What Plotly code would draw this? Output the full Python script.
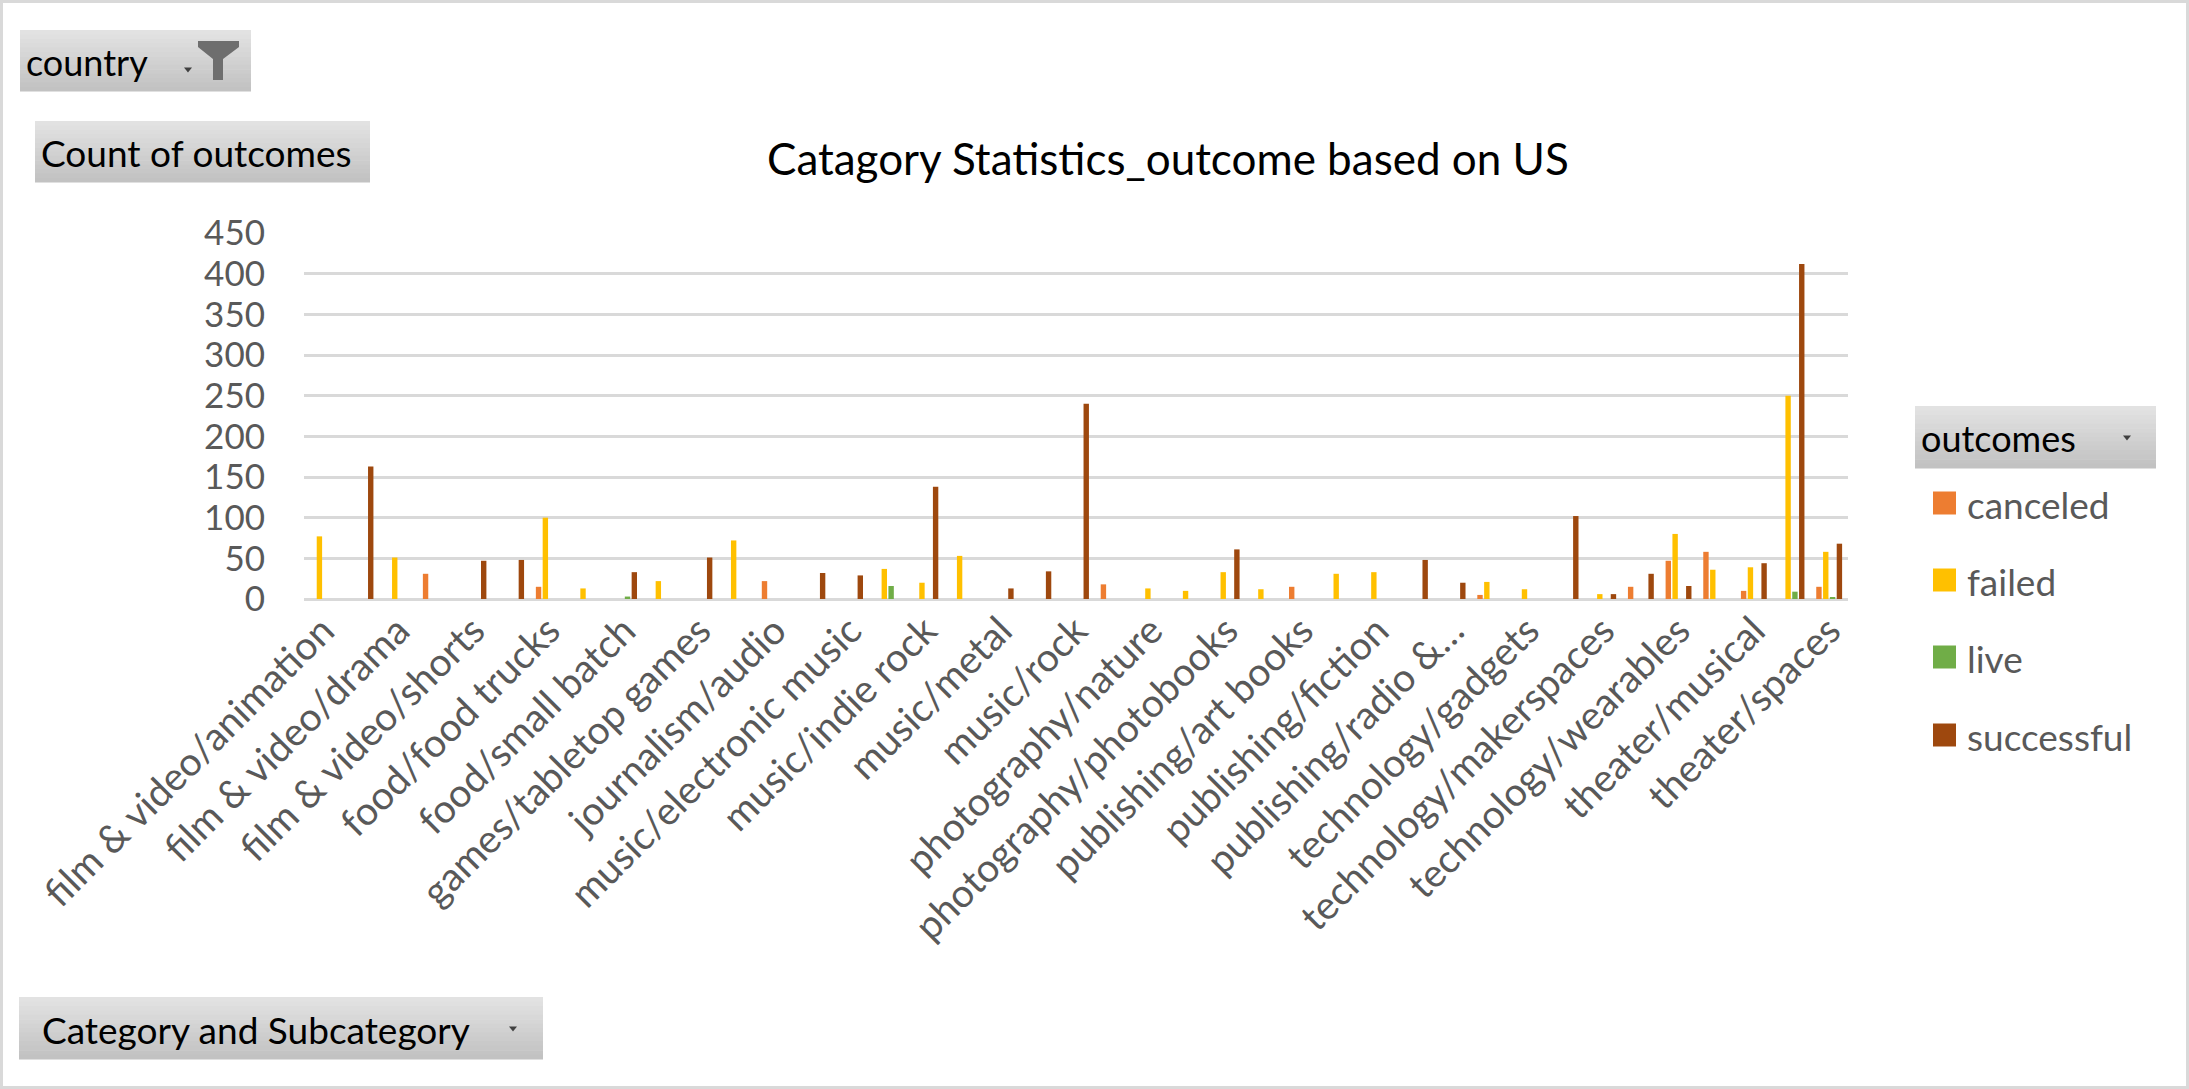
import plotly.graph_objects as go

# ---------------- data ----------------
categories = [
    "film & video/animation", "film & video/documentary", "film & video/drama",
    "film & video/science fiction", "film & video/shorts", "film & video/television",
    "food/food trucks", "food/restaurants", "food/small batch", "games/mobile games",
    "games/tabletop games", "games/video games", "journalism/audio",
    "music/classical music", "music/electronic music", "music/faith",
    "music/indie rock", "music/jazz", "music/metal", "music/pop", "music/rock",
    "music/world music", "photography/nature", "photography/people",
    "photography/photobooks", "photography/places", "publishing/art books",
    "publishing/children's books", "publishing/fiction", "publishing/nonfiction",
    "publishing/radio & podcasts", "publishing/translations", "technology/gadgets",
    "technology/hardware", "technology/makerspaces", "technology/space exploration",
    "technology/wearables", "technology/web", "theater/musical", "theater/plays",
    "theater/spaces",
]
N = None
canceled = [N, N, N, 31, N, N, 15, N, N, N, N, N, 22, N, N, N, N, N, N, N, N,
            18, N, N, N, N, 15, N, N, N, N, 5, N, N, N, 15, 47, 58, 10, N, 15]
failed = [77, N, 51, N, N, N, 100, 13, N, 22, N, 72, N, N, N, 37, 20, 53, N, N, N,
          N, 13, 10, 33, 12, N, 31, 33, N, N, 21, 12, N, 6, N, 80, 36, 39, 250, 58]
live = [N, N, N, N, N, N, N, N, 3, N, N, N, N, N, N, 16, N, N, N, N, N,
        N, N, N, N, N, N, N, N, N, N, N, N, N, N, N, N, N, N, 9, 2]
successful = [N, 163, N, N, 47, 48, N, N, 33, N, 51, N, N, 32, 29, N, 138, N, 13, 34, 240,
              N, N, N, 61, N, N, N, N, 48, 20, N, N, 102, 6, 31, 16, N, 44, 412, 68]

series_names = ["canceled", "failed", "live", "successful"]
series_values = [canceled, failed, live, successful]
series_colors = ["#ED7D31", "#FFC000", "#70AD47", "#9E480E"]

tick_labels = {
    "publishing/radio & podcasts": "publishing/radio &…",
}
y_ticks = list(range(0, 451, 50))

title_text = "Catagory Statistics_outcome based on US"

# ---------------- geometry (pixels) ----------------
W, H = 2189, 1089
L, R_EDGE, TOP, BOT = 304, 1848, 233, 599
PW, PH = R_EDGE - L, BOT - TOP


def px(x):
    return (x - L) / PW


def py(y):
    return (BOT - y) / PH


FONT = "Lato"
GREY_TXT = "#595959"

fig = go.Figure()
for name, vals, col in zip(series_names, series_values, series_colors):
    fig.add_trace(go.Bar(name=name, x=categories, y=vals, marker_color=col,
                         marker_line_width=0, showlegend=False))

shown = categories[::2]
fig.update_layout(
    width=W, height=H, autosize=False,
    margin=dict(l=L, r=W - R_EDGE, t=TOP, b=H - BOT, pad=0),
    paper_bgcolor="white", plot_bgcolor="white",
    barmode="group", bargap=0.275, bargroupgap=0.21,
    font=dict(family=FONT, color=GREY_TXT),
    xaxis=dict(type="category", categoryorder="array", categoryarray=categories,
               tickmode="array", tickvals=shown,
               ticktext=[tick_labels.get(c, c) for c in shown],
               tickangle=-45, tickfont=dict(size=39, color=GREY_TXT, family=FONT),
               showgrid=False, showline=False, ticks="", automargin=False,
               range=[-0.5, len(categories) - 0.5]),
    yaxis=dict(range=[0, 450], tickvals=y_ticks, showgrid=True, gridcolor="#D9D9D9",
               gridwidth=3, zeroline=True, zerolinecolor="#D9D9D9", zerolinewidth=3,
               tickfont=dict(size=35, color=GREY_TXT, family=FONT),
               ticks="", ticklabelstandoff=38, automargin=False, showline=False),
)

shapes = []
annots = []

# outer chart border
shapes.append(dict(type="rect", xref="paper", yref="paper",
                   x0=px(1.5), x1=px(W - 1.5), y0=py(1.5), y1=py(H - 1.5),
                   line=dict(color="#D9D9D9", width=3), fillcolor="rgba(0,0,0,0)",
                   layer="below"))


def button(x0, y0, x1, y1, text, tx, arrow=None, size=37):
    n = 14
    c_top, c_bot = (226, 226, 226), (194, 194, 194)
    for i in range(n):
        t = i / (n - 1)
        c = tuple(round(a + (b - a) * t) for a, b in zip(c_top, c_bot))
        ya = y0 + (y1 - y0) * i / n
        yb = y0 + (y1 - y0) * (i + 1) / n
        shapes.append(dict(type="rect", xref="paper", yref="paper",
                           x0=px(x0), x1=px(x1), y0=py(ya), y1=py(yb + 0.6),
                           line=dict(width=0), fillcolor="rgb(%d,%d,%d)" % c,
                           layer="above"))
    annots.append(dict(text=text, xref="paper", yref="paper", x=px(tx), y=py((y0 + y1) / 2 + 1),
                       xanchor="left", yanchor="middle", showarrow=False,
                       font=dict(family=FONT, size=size, color="#000000")))
    if arrow is not None:
        ax, ay = arrow
        path = "M%f,%f L%f,%f L%f,%f Z" % (px(ax - 4), py(ay - 2.5), px(ax + 4), py(ay - 2.5),
                                           px(ax), py(ay + 2.5))
        shapes.append(dict(type="path", xref="paper", yref="paper", path=path,
                           fillcolor="#404040", line=dict(width=0), layer="above"))


button(20, 30, 251, 91, "country", 24, arrow=(188, 70), size=36)
button(35, 121, 370, 182, "Count of outcomes", 39)
button(19, 997, 543, 1059, "Category and Subcategory", 40, arrow=(513, 1029))
button(1915, 406, 2156, 468, "outcomes", 1919, arrow=(2127, 438), size=36)

# funnel icon in the country button
fpts = [(198, 41), (239, 41), (239, 47), (223, 59), (223, 80), (213, 80), (213, 59), (198, 47)]
fpath = "M" + " L".join("%f,%f" % (px(a), py(b)) for a, b in fpts) + " Z"
shapes.append(dict(type="path", xref="paper", yref="paper", path=fpath,
                   fillcolor="#6E6E6E", line=dict(width=0), layer="above"))

# title
annots.append(dict(text=title_text, xref="paper", yref="paper", x=px(1168), y=py(158),
                   xanchor="center", yanchor="middle", showarrow=False,
                   font=dict(family=FONT, size=44, color="#000000")))

# legend (manual, matching the Excel square keys)
leg_y = [503, 580, 657, 735]
for name, col, yc in zip(series_names, series_colors, leg_y):
    shapes.append(dict(type="rect", xref="paper", yref="paper",
                       x0=px(1933), x1=px(1956), y0=py(yc - 11.5), y1=py(yc + 11.5),
                       fillcolor=col, line=dict(width=0), layer="above"))
    annots.append(dict(text=name, xref="paper", yref="paper", x=px(1965), y=py(yc + 1),
                       xanchor="left", yanchor="middle", showarrow=False,
                       font=dict(family=FONT, size=37, color=GREY_TXT)))

fig.update_layout(shapes=shapes, annotations=annots)
fig.write_html("out.html", config={"displayModeBar": False},
               post_script="document.body.style.margin='0px';")
